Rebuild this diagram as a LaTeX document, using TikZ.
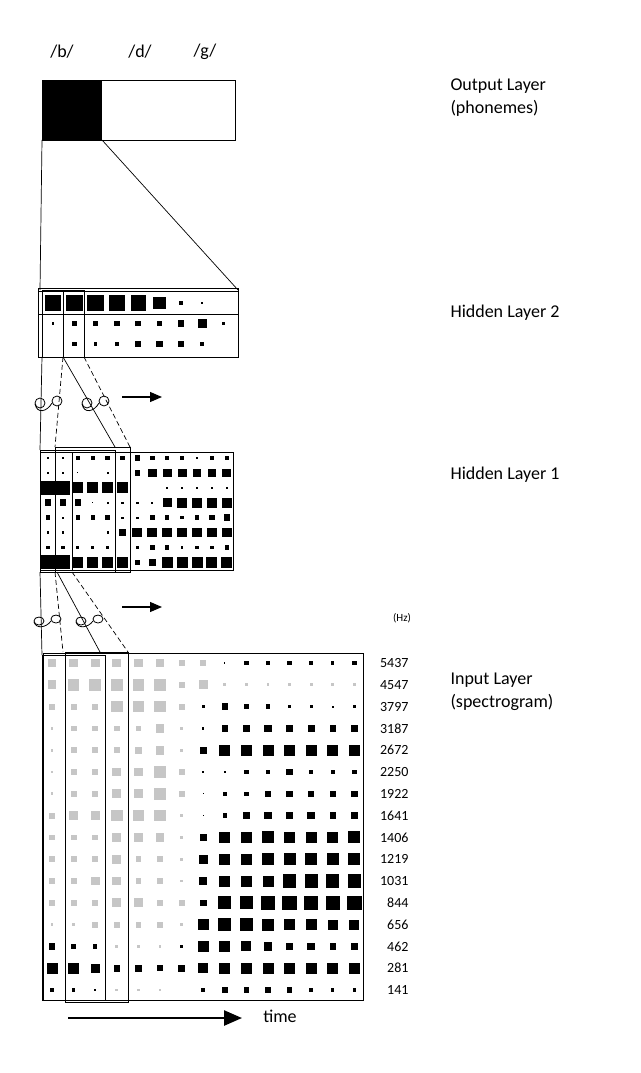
\documentclass[tikz,border=0pt]{standalone}
\usepackage{fontspec}
\setmainfont{Carlito}
\usetikzlibrary{arrows.meta}
\newcommand\usqgrid[5]{% x0, y0, dx, dy, rows
  \foreach \row [count=\r] in {#5} {
    \foreach \v [count=\c] in \row {
      \ifdim\v pt<0pt \def\cc{gray!45}\pgfmathsetmacro\s{abs(\v)*2.9}\else\def\cc{black}\pgfmathsetmacro\s{\v*2.2}\fi
      \pgfmathsetmacro\xx{#1+(\c-1)*#3}
      \pgfmathsetmacro\yy{#2+(\r-1)*#4}
      \ifdim\s pt>0.1pt
        \fill[\cc] (\xx-\s/2,\yy-\s/2) rectangle ++(\s,\s);
      \fi
    }
  }
}
\begin{document}
\begin{tikzpicture}[x=1pt,y=-1pt,
  lab/.style={anchor=west,font=\fontsize{18}{23}\selectfont,align=left},
  hz/.style={font=\fontsize{14}{16}\selectfont,anchor=east},
  box/.style={draw,line width=0.8pt},
  win/.style={draw,line width=1pt},
  conn/.style={line width=0.7pt},
  dconn/.style={line width=0.7pt,dash pattern=on 5pt off 3pt},
  loopy/.style={line width=0.8pt}]
\useasboundingbox (0,0) rectangle (640,1073);

% phoneme labels
\node[font=\fontsize{18}{22}\selectfont] (pb) at (62,52) {/b/};
\node[font=\fontsize{18}{22}\selectfont] (pd) at (140,52) {/d/};
\node[font=\fontsize{18}{22}\selectfont] (pg) at (205,52) {/g/};

% output layer
\fill (42,80) rectangle (102,140);
\draw[box] (42,80) rectangle (235,140);
\node[lab] (ol) at (447,98) {Output Layer\\(phonemes)};

% lines output -> HL2
\draw[conn] (42,140) -- (40,290);
\draw[conn] (102,140) -- (238,290);

% hidden layer 2
\draw[box] (38,288) rectangle (238,357);
\draw[win] (38,291) rectangle (238,314);
\usqgrid{53}{303}{21.3}{20.5}{{7,7.5,7.5,7.5,7,5.5,2,1,0},{1,2,2.5,2.5,2.5,2.5,3,4,1.5},{0,2,1.5,2,2.5,3,3,1.5,0}}
\draw[win] (42,290) rectangle (63,357);
\draw[win] (63,290) rectangle (84,357);
\node[lab] (h2) at (447,313) {Hidden Layer 2};

% connections HL2 -> HL1
\draw[conn] (42,357) -- (40,450);
\draw[dconn] (63,357) -- (55,447);
\draw[conn] (63,357) -- (115,447);
\draw[dconn] (84,357) -- (130,447);

% loops & arrow 1
\foreach \lx in {45,92}{
  \draw[loopy] (\lx-5,403) circle[x radius=5,y radius=5];
  \draw[loopy] (\lx+12,401) circle[x radius=5,y radius=5];
  \draw[loopy] (\lx-10,404) .. controls (\lx-8,414) and (\lx+2,412) .. (\lx+7,403);
}
\draw[line width=1.2pt,-{Triangle[length=12pt,width=10pt]}] (122,397) -- (162,397);

% hidden layer 1
\draw[box] (40,452) rectangle (233,570);
\usqgrid{48}{458}{14.9}{14.9}{{1,1,2,2,2,2,2.5,2,2,1.5,1,2,2},{1,1,0.5,0,1,0,2.5,4,4,4,4,4,4},{6.5,6.5,5,5,5,5,0,0,1,1,1,1,1},{3,3,3,0.5,1,1,1,1,4,4.5,4.5,4.5,4.5},{2,1,2,2,2,1,1,2,2,1.5,2,2.5,3},{1,1,0,0,1,3,4.5,4.5,4.5,4.5,4.5,4.5,4.5},{1.5,1.5,1.5,1.5,1.5,0,1,2,2,1,1.5,1.5,2},{6.5,6.5,5,5,5,5,2,3,5,5,5,5,5}}
\draw[win] (40,450) rectangle (115,572);
\draw[win] (55,447) rectangle (130,572);
\draw[conn] (72,452) -- (72,570);
\node[lab] (h1) at (447,475) {Hidden Layer 1};

% connections HL1 -> input
\draw[conn] (40,572) -- (42,655);
\draw[dconn] (55,572) -- (63,652);
\draw[conn] (57,572) -- (100,652);
\draw[dconn] (72,572) -- (128,652);

% loops & arrow 2
\foreach \lx in {44,86}{
  \draw[loopy] (\lx-5,621) circle[x radius=5,y radius=4];
  \draw[loopy] (\lx+12,619) circle[x radius=5,y radius=4];
  \draw[loopy] (\lx-10,622) .. controls (\lx-8,629) and (\lx+2,628) .. (\lx+7,621);
}
\draw[line width=1.2pt,-{Triangle[length=12pt,width=10pt]}] (122,607) -- (162,607);
\node[font=\fontsize{11}{13}\selectfont] (hzl) at (402,618) {(Hz)};

% input layer
\draw[box] (43,653) rectangle (363,1000);
\usqgrid{52}{663}{21.6}{21.8}{
{-3,-3,-3,-3,-3,-3,-2,-2,0.5,2,2,2,2,1.5,2},
{-3,-4,-4,-4,-4,-4,-2,-3,-1,-1,-1,-1,-1,-1,-1},
{-2,-2,-2,-4,-4,-4,-2,1.5,3,2.5,2,1.5,1.5,1,1.5},
{-1,-2,-2,-2,-2,-3,-1,1,3,3,3.5,3,3,3,3},
{-1,-2,-2,-2,-2.5,-3,-1,3,5,5,5,5,5,5,5},
{-1,-2,-2,-3,-3,-4,-2,1,1,2,1.5,3,2,2,2},
{-1,-2,-2,-3,-3,-4,-2,0.5,2,2,3,3,2.5,2.5,3},
{-2,-3,-3,-4,-4,-4,-1,0.5,2,3,3.5,3.5,3.5,3,3},
{-2,-2,-2,-3,-3,-3,-1,3,5,5,5.5,5,5,5,5.5},
{-2,-2,-2,-3,-2,-2,-1,4,5,5,5.5,5.5,5.5,5.5,5.5},
{-2,-2,-3,-3,-2,-2,-1,3.5,5,5,5,6,6,6,6},
{-2,-2,-2,-3,-3,-2,-2,3,6,6,6.5,6.5,6.5,6.5,6.5},
{-1,-1,-2,-2,-2,-2,-1,5,6,6,5.5,5,5,4.5,4.5},
{3,2,2,-1,-1,-1,1.5,5,5,4.5,4,3.5,3.5,3,3},
{5,5,4,3,3,2.5,3,4.5,5,5,5,5,5,5,5},
{1.5,1.5,1,-1,-1,-1,0,2,3,2.5,2.5,2.5,2,1.5,1.5}}
\draw[win] (42,655) rectangle (105,1000);
\draw[win] (65,652) rectangle (128,1002);
\foreach \f [count=\i] in {5437,4547,3797,3187,2672,2250,1922,1641,1406,1219,1031,844,656,462,281,141}{
  \node[hz] (f\i) at (412,663+21.8*\i-21.8) {\f};
}
\node[lab] (il) at (447,692) {Input Layer\\(spectrogram)};

% time arrow
\coordinate (t0) at (68,1018);
\coordinate (t1) at (242,1018);
\draw[line width=2.5pt,-{Triangle[length=18pt,width=15pt]}] (t0) -- (t1);
\node[font=\fontsize{18}{22}\selectfont] (tm) at (280,1016) {time};
\end{tikzpicture}
\end{document}
